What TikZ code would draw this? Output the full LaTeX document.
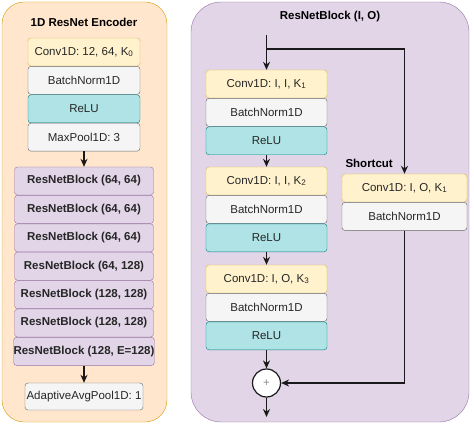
\documentclass[tikz,border=0pt]{standalone}
\usepackage{fontspec}
\setmainfont{Liberation Sans}
\usetikzlibrary{positioning,arrows.meta}

\definecolor{orangefill}{HTML}{FFE6CC}
\definecolor{orangeline}{HTML}{D79B00}
\definecolor{purplefill}{HTML}{E1D5E7}
\definecolor{purpleline}{HTML}{9673A6}
\definecolor{yellowfill}{HTML}{FFF2CC}
\definecolor{yellowline}{HTML}{D6B656}
\definecolor{greyfill}{HTML}{F5F5F5}
\definecolor{greyline}{HTML}{666666}
\definecolor{tealfill}{HTML}{B0E3E6}
\definecolor{tealline}{HTML}{0E8088}

\begin{document}
\begin{tikzpicture}
[
	x=1pt, y=-1pt,
	font=\fontsize{11.5}{13}\selectfont,
	layer/.style={rectangle,draw,rounded corners=3pt,inner sep=0pt,minimum height=28pt,text=black!85},
	conv/.style={layer,fill=yellowfill,draw=yellowline},
	bnorm/.style={layer,fill=greyfill,draw=greyline},
	relu/.style={layer,fill=tealfill,draw=tealline},
	block/.style={layer,fill=purplefill,draw=purpleline,font=\fontsize{11.5}{13}\selectfont\bfseries,minimum width=139pt},
	flow/.style={-{Stealth[length=8pt,width=7pt]},line width=1.2pt,black!90},
	wire/.style={line width=1.2pt,black!90}
]
	\useasboundingbox (0,0) rectangle (474,425);

	% panels
	\draw[orangeline,fill=orangefill,rounded corners=22pt] (2,2) rectangle (167,422);
	\draw[purpleline,fill=purplefill,rounded corners=30pt] (191,2) rectangle (469,422);
	\node[font=\fontsize{11.5}{13}\selectfont\bfseries] (enctitle) at (84,22) {1D ResNet Encoder};
	\node[font=\fontsize{11.5}{13}\selectfont\bfseries] (blktitle) at (330,17) {ResNetBlock (I, O)};

	% encoder
	\node[conv,minimum width=112pt] at (84,52) (c0) {Conv1D: 12, 64, K\textsubscript{0}};
	\node[bnorm,minimum width=112pt,below=0pt of c0] (bn0) {BatchNorm1D};
	\node[relu,minimum width=112pt,below=0pt of bn0] (r0) {ReLU};
	\node[bnorm,minimum width=112pt,below=0pt of r0] (mp) {MaxPool1D: 3};

	\node[block] at (84,181) (b1) {ResNetBlock (64, 64)};
	\node[block,below=0pt of b1] (b2) {ResNetBlock (64, 64)};
	\node[block,below=0pt of b2] (b3) {ResNetBlock (64, 64)};
	\node[block,below=0pt of b3] (b4) {ResNetBlock (64, 128)};
	\node[block,below=0pt of b4] (b5) {ResNetBlock (128, 128)};
	\node[block,below=0pt of b5] (b6) {ResNetBlock (128, 128)};
	\node[block,below=0pt of b6] (b7) {ResNetBlock (128, E=128)};
	\node[bnorm,minimum width=118pt,minimum height=27pt] at (84,396.5) (pool) {AdaptiveAvgPool1D: 1};

	\draw[flow] (mp) -- (b1);
	\draw[flow] (b7) -- (pool);

	% residual block, main path
	\node[conv,minimum width=121pt] at (266.5,84) (c1) {Conv1D: I, I, K\textsubscript{1}};
	\node[bnorm,minimum width=121pt,below=0pt of c1] (bn1) {BatchNorm1D};
	\node[relu,minimum width=121pt,below=0pt of bn1] (r1) {ReLU};
	\node[conv,minimum width=121pt] at (266.5,181) (c2) {Conv1D: I, I, K\textsubscript{2}};
	\node[bnorm,minimum width=121pt,below=0pt of c2] (bn2) {BatchNorm1D};
	\node[relu,minimum width=121pt,below=0pt of bn2] (r2) {ReLU};
	\node[conv,minimum width=121pt] at (266.5,279) (c3) {Conv1D: I, O, K\textsubscript{3}};
	\node[bnorm,minimum width=121pt,below=0pt of c3] (bn3) {BatchNorm1D};
	\node[relu,minimum width=121pt,below=0pt of bn3] (r3) {ReLU};

	\node[circle,draw=black!90,line width=1.2pt,fill=white,minimum size=28pt,inner sep=0pt,text=black!45] at (c3.center |- 0,383) (sum) {+};

	% shortcut
	\node[conv,minimum width=125pt] at (404.5,188) (cs) {Conv1D: I, O, K\textsubscript{1}};
	\node[bnorm,minimum width=125pt,below=0pt of cs] (bns) {BatchNorm1D};
	\node[font=\fontsize{11.5}{13}\selectfont\bfseries,anchor=west] at (342,163) (sclabel) {Shortcut};

	\coordinate (in) at (c1.north |- 0,35);
	\coordinate (split) at (c1.north |- 0,49);
	\coordinate (out) at (sum.south |- 0,417);

	\draw[flow] (in) -- (c1);
	\draw[flow] (split) -| (cs);
	\draw[flow] (r1) -- (c2);
	\draw[flow] (r2) -- (c3);
	\draw[flow] (r3) -- (sum);
	\draw[flow] (bns) |- (sum);
	\draw[flow] (sum) -- (out);

\end{tikzpicture}
\end{document}
